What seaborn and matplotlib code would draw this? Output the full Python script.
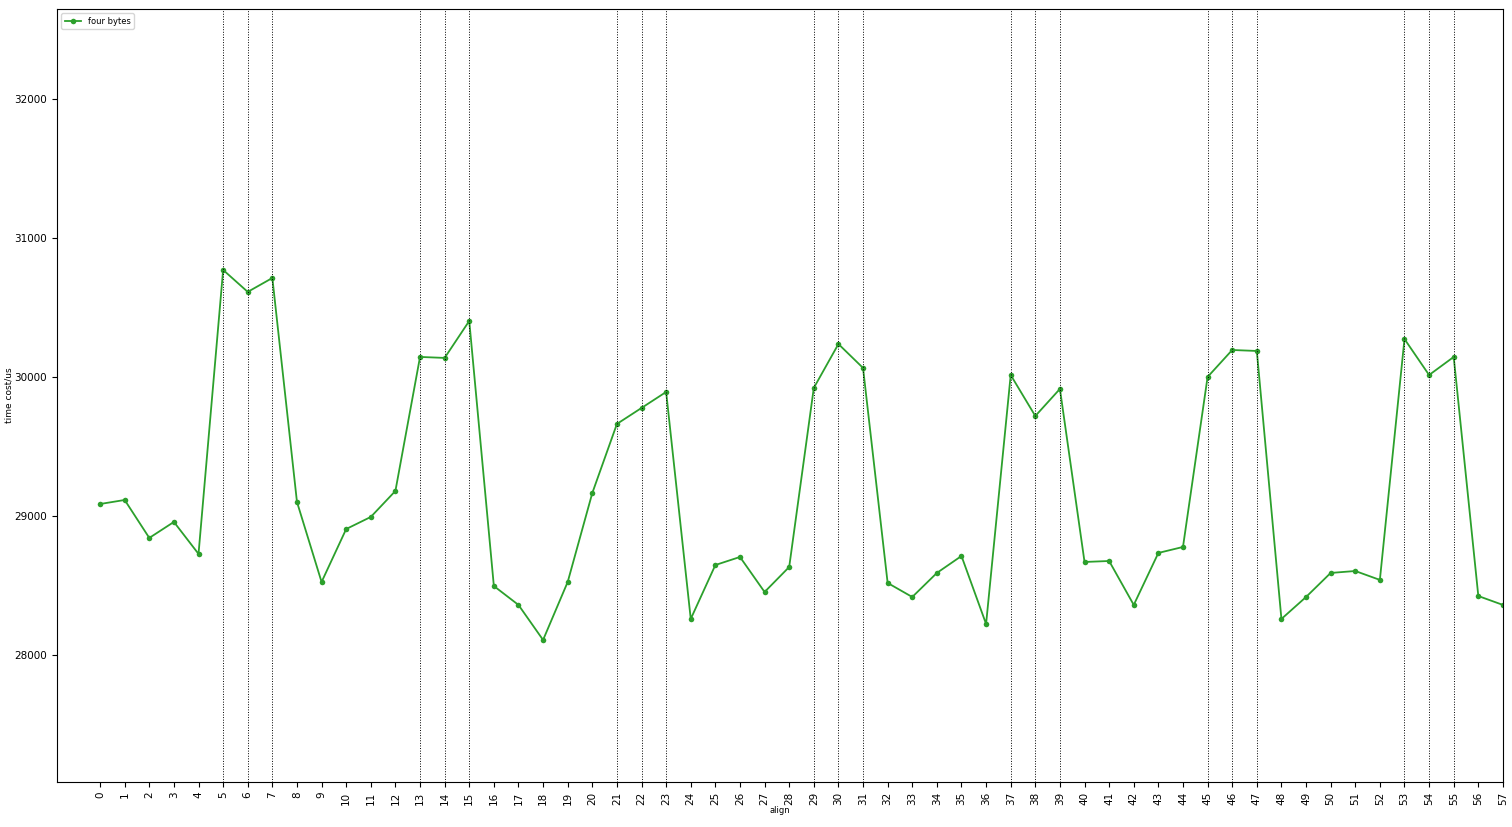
import pandas as pd
import matplotlib
matplotlib.use("Agg")
import matplotlib.pyplot as plt
import seaborn as sns

# align offsets and measured time cost (us)
align = list(range(58))
cost = [29086, 29115, 28842, 28957, 28727, 30770, 30612, 30712, 29101, 28525,
        28906, 28993, 29180, 30144, 30137, 30403, 28496, 28360, 28108, 28525,
        29165, 29662, 29777, 29892, 28259, 28647, 28705, 28453, 28633, 29921,
        30237, 30065, 28518, 28417, 28590, 28712, 28223, 30014, 29719, 29914,
        28669, 28676, 28360, 28734, 28777, 30000, 30194, 30187, 28259, 28417,
        28590, 28604, 28540, 30273, 30014, 30144, 28424, 28360]
# offsets where the 4-byte read crosses a boundary
marked = [5, 6, 7, 13, 14, 15, 21, 22, 23, 29, 30, 31, 37, 38, 39,
          45, 46, 47, 53, 54, 55]

df = pd.DataFrame({"align": align, "cost": cost})

fig = plt.figure(figsize=(15.12, 8.27), dpi=100)
ax = fig.add_axes([0.0377, 0.0544, 0.9563, 0.9347])

sns.lineplot(data=df, x="align", y="cost", ax=ax, color="tab:green",
             marker="o", markersize=4, markeredgewidth=0, linewidth=1.3,
             label="four bytes")

for m in marked:
    ax.axvline(m, color="black", linestyle=":", linewidth=0.7)

ax.set_xticks(align)
ax.set_xticklabels([str(a) for a in align], rotation=90, fontsize=7.5)
ax.tick_params(axis="y", labelsize=7.5)
ax.set_xlim(-1.75, 57)
ax.set_ylim(27086, 32647)
ax.set_xlabel("align", fontsize=6, labelpad=1)
ax.set_ylabel("time cost/us", fontsize=6.5, labelpad=1)
ax.legend(loc="upper left", fontsize=6)

plt.savefig("out.png", dpi=100)
